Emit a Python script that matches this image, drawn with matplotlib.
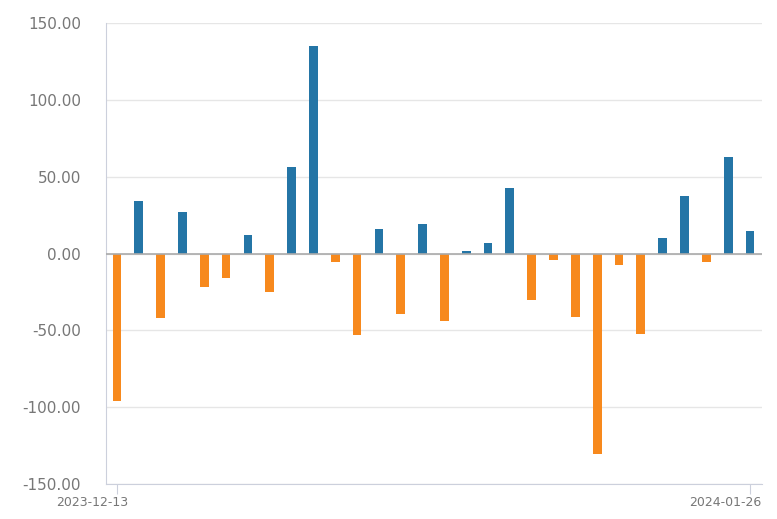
import matplotlib
matplotlib.use("Agg")
import matplotlib.pyplot as plt
import matplotlib.transforms as mtransforms
import numpy as np

first_date = "2023-12-13"
last_date = "2024-01-26"
values = [-96, 34, -42, 27, -21.7, -16, 12, -25, 56.6, 135,
          -5.8, -53, 16.2, -39.5, 19.5, -43.8, 1.5, 6.6, 42.3, -30.3,
          -4, -41.2, -130.8, -7.5, -52.3, 10.1, 37.3, -5.8, 62.5, 14.5]
yticks = [-150, -100, -50, 0, 50, 100, 150]

blue = "#2475a6"
orange = "#f7891d"

fig = plt.figure(figsize=(7.77, 5.19), dpi=100)
ax = fig.add_axes([106 / 777, 1 - 484 / 519, 656 / 777, 461 / 519])

x = np.arange(len(values))
colors = [blue if v >= 0 else orange for v in values]
ax.bar(x, values, width=0.4, color=colors, zorder=3)

ax.set_xlim(-0.5, len(values) - 0.45)
ax.set_ylim(-150, 150)
ax.set_yticks(yticks)
ax.set_yticklabels([f"{t:.2f}" for t in yticks], fontsize=11, color="#777777")
ax.tick_params(axis="y", length=0, pad=18)

ax.set_xticks([0, len(values) - 1])
ax.set_xticklabels([first_date, last_date], fontsize=9, color="#777777")
ax.tick_params(axis="x", length=7, color="#ccd0dc", pad=2)
# labels sit a bit left of their ticks in the original
shift = mtransforms.ScaledTranslation(-25 / 100, 0, fig.dpi_scale_trans)
for lab in ax.get_xticklabels():
    lab.set_transform(lab.get_transform() + shift)

ax.grid(axis="y", color="#e6e6e6", linewidth=1, zorder=0)
ax.axhline(0, color="#aaaaaa", linewidth=1.2, zorder=4)

for s in ["top", "right"]:
    ax.spines[s].set_visible(False)
for s in ["left", "bottom"]:
    ax.spines[s].set_color("#ccd0dc")

fig.savefig("out.png", dpi=100)
